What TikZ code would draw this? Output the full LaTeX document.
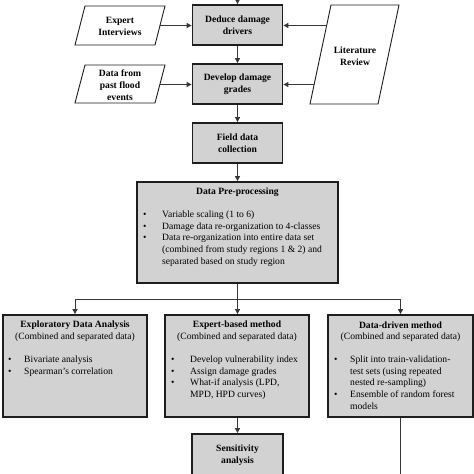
\documentclass[tikz,border=0pt]{standalone}
\usepackage{fontspec}
\setmainfont{Liberation Serif}
\usetikzlibrary{arrows.meta}
\definecolor{boxfill}{RGB}{210,210,210}
\definecolor{edge}{RGB}{30,30,30}
\definecolor{conn}{RGB}{55,55,55}
\newcommand{\bul}[1]{\makebox[#1][l]{\textbullet}}
\tikzset{
  procbox/.style={draw=edge,line width=1.8pt,fill=boxfill,inner sep=0pt,align=center,font=\fontsize{9.6}{11.7}\selectfont\bfseries},
  dataframe/.style={draw=edge,line width=0.9pt,fill=white,line join=miter},
  datatext/.style={inner sep=0pt,align=center,font=\fontsize{9.6}{11.7}\selectfont\bfseries},
  conn/.style={draw=conn,line width=1pt,-{Triangle[length=5pt,width=5pt]}},
  plainline/.style={draw=conn,line width=1pt},
  ttl/.style={inner sep=0pt,align=center,font=\fontsize{9.6}{11.7}\selectfont\bfseries},
  sub/.style={inner sep=0pt,align=center,font=\fontsize{9.6}{11.7}\selectfont},
  blist/.style={inner sep=0pt,align=left,anchor=north west,font=\fontsize{9.6}{11.7}\selectfont},
}
\begin{document}
\begin{tikzpicture}[x=1pt,y=-1pt]
\useasboundingbox (0,0) rectangle (474,474);
% main process boxes
\node[procbox,minimum width=90pt,minimum height=40pt] (ded) at (237.5,25) {Deduce damage\\drivers};
\node[procbox,minimum width=90pt,minimum height=40pt] (dev) at (237.5,84) {Develop damage\\grades};
\node[procbox,minimum width=90pt,minimum height=40pt] (fld) at (237.5,143) {Field data\\collection};
\node[procbox,minimum width=201pt,minimum height=101pt] (pre) at (237.5,232.5) {};
\node[procbox,minimum width=144pt,minimum height=102pt] (eda) at (75,366) {};
\node[procbox,minimum width=144pt,minimum height=102pt] (exb) at (237,366) {};
\node[procbox,minimum width=145pt,minimum height=102pt] (ddm) at (400.5,366) {};
\node[procbox,minimum width=91pt,minimum height=42pt] (sen) at (237.5,455) {Sensitivity\\analysis};
% data inputs (parallelograms)
\path[dataframe] (75,45) -- (85,6) -- (165,6) -- (155,45) -- cycle;
\path[dataframe] (75,103) -- (85,65) -- (165,65) -- (155,103) -- cycle;
\path[dataframe] (310,104) -- (331,5) -- (399,5) -- (378,104) -- cycle;
\node[datatext] (ei) at (120,26.5) {Expert\\Interviews};
\node[datatext] (pf) at (120,85) {Data from\\past flood\\events};
\node[datatext] (lit) at (355,56) {Literature\\Review};
\coordinate (eiout) at (160,25.5);
\coordinate (pfout) at (160,84.5);
\coordinate (litout1) at (326.7,25.5);
\coordinate (litout2) at (314.1,84.5);
% texts inside boxes
\node[ttl] (pret) at (237.5,192) {Data Pre-processing};
\node[blist] (prel) at (143,210.5) {\bul{19pt}Variable scaling (1 to 6)\\
\bul{19pt}Damage data re-organization to 4-classes\\
\bul{19pt}Data re-organization into entire data set\\
\hspace*{19pt}(combined from study regions 1 \& 2) and\\
\hspace*{19pt}separated based on study region};
\node[ttl] (edat) at (75,325) {Exploratory Data Analysis};
\node[sub] (edas) at (75,337.3) {(Combined and separated data)};
\node[blist] (edal) at (8,355.5) {\bul{16pt}Bivariate analysis\\
\bul{16pt}Spearman's correlation};
\node[ttl] (exbt) at (237,325) {Expert-based method};
\node[sub] (exbs) at (237,337.3) {(Combined and separated data)};
\node[blist] (exbl) at (171,355.5) {\bul{19pt}Develop vulnerability index\\
\bul{19pt}Assign damage grades\\
\bul{19pt}What-if analysis (LPD,\\
\hspace*{19pt}MPD, HPD curves)};
\node[ttl] (ddmt) at (400.5,325) {Data-driven method};
\node[sub] (ddms) at (400.5,337.3) {(Combined and separated data)};
\node[blist] (ddml) at (334,355.5) {\bul{16pt}Split into train-validation-\\
\hspace*{16pt}test sets (using repeated\\
\hspace*{16pt}nested re-sampling)\\
\bul{16pt}Ensemble of random forest\\
\hspace*{16pt}models};
% connectors
\coordinate (top) at (237.5,-2);
\coordinate (split) at (237.5,299.5);
\coordinate (ddend) at (400.5,476);
\draw[conn] (top) -- (ded.north);
\draw[conn] (ded) -- (dev);
\draw[conn] (dev) -- (fld);
\draw[conn] (fld) -- (pre);
\draw[conn] (eiout) -- (eiout -| ded.west);
\draw[conn] (pfout) -- (pfout -| dev.west);
\draw[conn] (litout1) -- (litout1 -| ded.east);
\draw[conn] (litout2) -- (litout2 -| dev.east);
\draw[plainline] (pre.south) -- (split);
\draw[conn] (split) -| (eda.north);
\draw[conn] (split) -| (ddm.north);
\draw[conn] (split) -- (exb.north -| split);
\draw[conn] (exb.south -| sen.north) -- (sen.north);
\draw[plainline] (ddm.south) -- (ddend);
\end{tikzpicture}
\end{document}
